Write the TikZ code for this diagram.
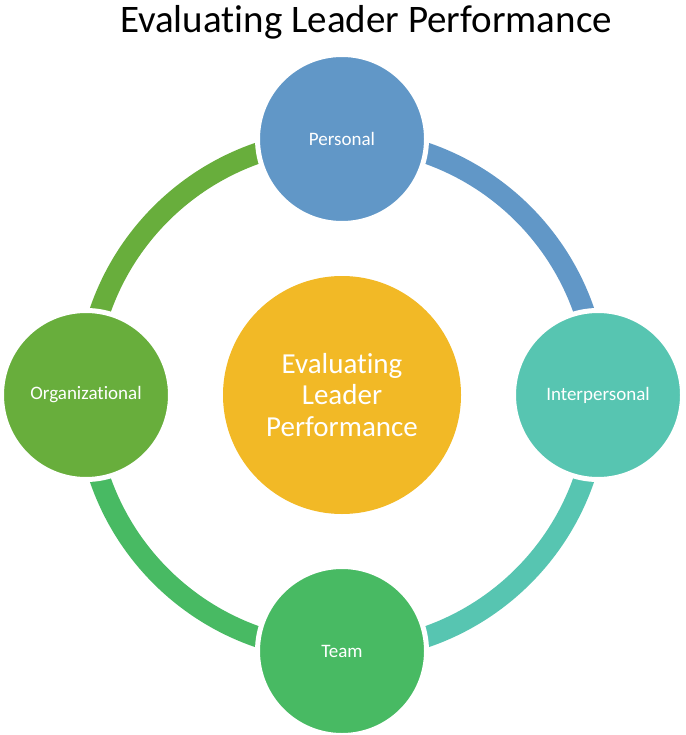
\documentclass[tikz,border=0pt]{standalone}
\usepackage{fontspec}
\setmainfont{Carlito}[Ligatures=CommonOff]
\usetikzlibrary{backgrounds}
\definecolor{perblue}{HTML}{6197C7}
\definecolor{intteal}{HTML}{57C5B1}
\definecolor{teamgreen}{HTML}{48BA63}
\definecolor{orgolive}{HTML}{68AE3C}
\definecolor{leadgold}{HTML}{F2B926}
\begin{document}
\begin{tikzpicture}[x=1pt,y=-1pt,
  bubble/.style={circle,draw=white,line width=5pt,minimum size=169pt,inner sep=0pt,text=white,font=\fontsize{19}{22}\selectfont},
  core/.style={circle,minimum size=238pt,inner sep=0pt,fill=leadgold,text=white,align=center,font=\fontsize{29}{31.5}\selectfont},
  ring/.style={line width=21pt}]
\useasboundingbox (0,0) rectangle (685,735);
\node[anchor=base] (title) at (366,33) {\fontsize{39}{44}\selectfont Evaluating Leader Performance};
\node[core] (lead) at (342,395) {Evaluating\\Leader\\Performance};
\node[bubble,fill=perblue] (per) at (342,139) {Personal};
\node[bubble,fill=intteal] (inter) at (598,395) {Interpersonal};
\node[bubble,fill=teamgreen] (team) at (342,651) {Team};
\node[bubble,fill=orgolive] (org) at (86,395) {Organizational};
\begin{scope}[on background layer]
\draw[ring,draw=perblue] (per.center) to[out=0,in=90] (inter.center);
\draw[ring,draw=intteal] (inter.center) to[out=-90,in=0] (team.center);
\draw[ring,draw=teamgreen] (team.center) to[out=180,in=-90] (org.center);
\draw[ring,draw=orgolive] (org.center) to[out=90,in=180] (per.center);
\end{scope}
\end{tikzpicture}
\end{document}
